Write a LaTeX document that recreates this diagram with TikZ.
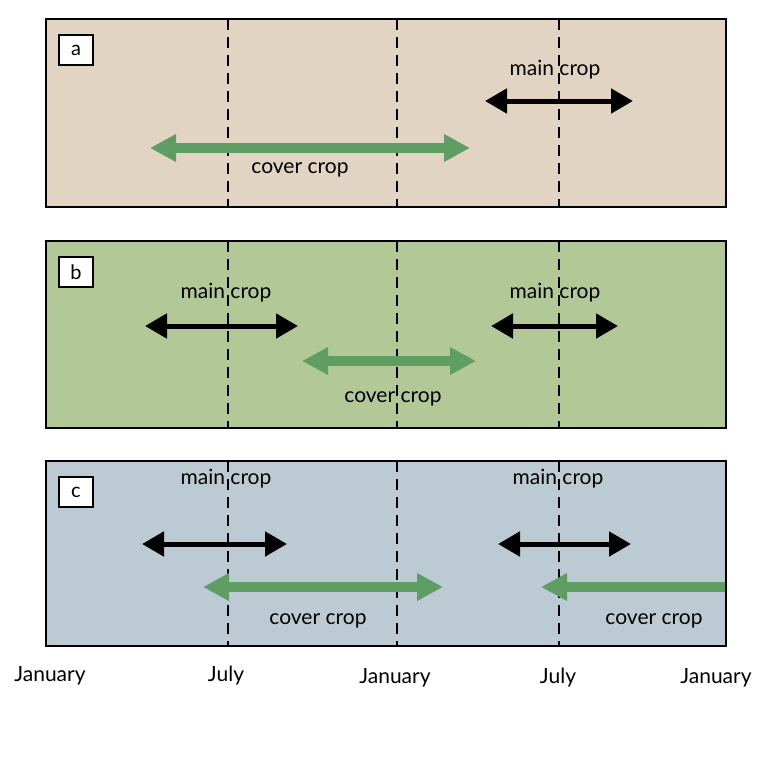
\documentclass[tikz,border=0pt]{standalone}
\usepackage{fontspec}
\setmainfont{Lato}
\usetikzlibrary{arrows.meta}
\definecolor{pa}{HTML}{E2D4C2}
\definecolor{pb}{HTML}{B3C897}
\definecolor{pc}{HTML}{BCCBD3}
\definecolor{gr}{HTML}{5E9E62}
\tikzset{
panel/.style={draw=black,line width=2pt},
dash line/.style={line width=1.8pt,dash pattern=on 11pt off 7pt},
lbl/.style={draw=black,fill=white,line width=1.5pt,minimum width=34pt,minimum height=30pt,font=\fontsize{20}{20}\selectfont,inner sep=0pt},
txt/.style={font=\fontsize{21}{21}\selectfont,inner sep=0pt},
blk/.style={line width=5pt,{Triangle[width=24pt,length=22pt]}-{Triangle[width=24pt,length=22pt]}},
grn/.style={gr,line width=10pt,{Triangle[width=26pt,length=26pt]}-{Triangle[width=26pt,length=26pt]}},
grnl/.style={gr,line width=10pt,{Triangle[width=26pt,length=26pt]}-},
}
\begin{document}
\begin{tikzpicture}[x=1pt,y=-1pt]
\useasboundingbox (0,0) rectangle (768,768);
\fill[pa] (46,19) rectangle (726,207);
\fill[pb] (46,241) rectangle (726,428);
\fill[pc] (46,461) rectangle (726,646);
\foreach \x in {228,397,559}{
 \draw[dash line] (\x,19) -- (\x,207);
 \draw[dash line] (\x,241) -- (\x,428);
 \draw[dash line] (\x,461) -- (\x,646);
}
% panel a
\coordinate (a1) at (150,148); \coordinate (a2) at (470,148);
\draw[grn] (a1) -- (a2);
\coordinate (a3) at (485,101); \coordinate (a4) at (633,101);
\draw[blk] (a3) -- (a4);
\node[txt] (ta1) at (555,70) {main crop};
\node[txt] (ta2) at (300,170) {cover crop};
% panel b
\coordinate (b1) at (145,326); \coordinate (b2) at (298,326);
\draw[blk] (b1) -- (b2);
\coordinate (b3) at (491,326); \coordinate (b4) at (618,326);
\draw[blk] (b3) -- (b4);
\coordinate (b5) at (302,361); \coordinate (b6) at (476,361);
\draw[grn] (b5) -- (b6);
\node[txt] (tb1) at (226,293) {main crop};
\node[txt] (tb2) at (555,293) {main crop};
\node[txt] (tb3) at (393,399) {cover crop};
% panel c
\coordinate (c1) at (142,544); \coordinate (c2) at (287,544);
\draw[blk] (c1) -- (c2);
\coordinate (c3) at (498,544); \coordinate (c4) at (631,544);
\draw[blk] (c3) -- (c4);
\coordinate (c5) at (203,587); \coordinate (c6) at (443,587);
\draw[grn] (c5) -- (c6);
\coordinate (c7) at (541,587); \coordinate (c8) at (726,587);
\draw[grnl] (c7) -- (c8);
\node[txt] (tc1) at (226,479) {main crop};
\node[txt] (tc2) at (558,479) {main crop};
\node[txt] (tc3) at (318,621) {cover crop};
\node[txt] (tc4) at (654,621) {cover crop};
% frames
\draw[panel] (46,19) rectangle (726,207);
\draw[panel] (46,241) rectangle (726,428);
\draw[panel] (46,461) rectangle (726,646);
\node[lbl] (la) at (76,50) {a};
\node[lbl] (lb) at (76,272) {b};
\node[lbl] (lc) at (76,492) {c};
% months
\node[txt] (m1) at (50,676) {January};
\node[txt] (m2) at (226,676) {July};
\node[txt] (m3) at (395,678) {January};
\node[txt] (m4) at (558,678) {July};
\node[txt] (m5) at (716,678) {January};
\end{tikzpicture}
\end{document}
